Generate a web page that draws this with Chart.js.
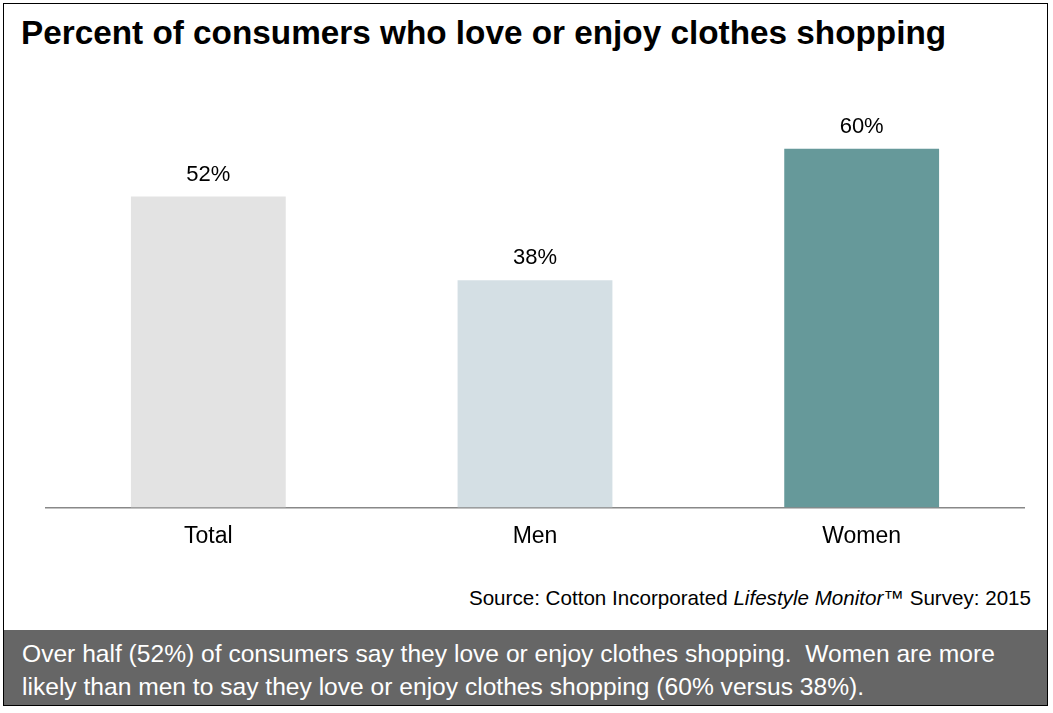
<!DOCTYPE html>
<html><head><meta charset="utf-8">
<script src="https://cdn.jsdelivr.net/npm/chart.js@4"></script>
<style>
body{margin:0;background:#fff;font-family:"Liberation Sans",Arial,sans-serif;}
#frame{position:absolute;left:3px;top:3px;width:1045px;height:703px;border:1px solid #000;box-sizing:border-box;}
#title{position:absolute;left:21px;top:14px;font-size:33.3px;font-weight:bold;color:#000;}
#wrap{position:absolute;left:45px;top:80px;width:980px;height:485px;}
#src{position:absolute;right:22px;top:586px;font-size:20.6px;color:#000;}
#foot{position:absolute;left:4px;top:630px;width:1043px;height:75px;background:#666;color:#fff;font-size:24.6px;line-height:33px;padding:7px 18px 8px 18px;box-sizing:border-box;}
</style></head><body>
<div id="frame"></div>
<div id="title">Percent of consumers who love or enjoy clothes shopping</div>
<div id="wrap"><canvas id="c"></canvas></div>
<div id="src">Source: Cotton Incorporated <i>Lifestyle Monitor</i>™ Survey: 2015</div>
<div id="foot">Over half (52%) of consumers say they love or enjoy clothes shopping.&nbsp; Women are more likely than men to say they love or enjoy clothes shopping (60% versus 38%).</div>
<script>
const categories=["Total","Men","Women"];
const values=[52,38,60];
const barColors=["#e3e3e3","#d4dfe4","#66999a"];
const labelPlugin={id:"lbl",afterDatasetsDraw(ch){const c=ch.ctx;const m=ch.getDatasetMeta(0);c.save();c.font='22px "Liberation Sans",Arial';c.fillStyle="#000";c.textAlign="center";c.textBaseline="bottom";m.data.forEach((b,i)=>c.fillText(values[i]+"%",b.x,b.y-11));c.restore();}};
new Chart(document.getElementById("c"),{type:"bar",
data:{labels:categories,datasets:[{data:values,backgroundColor:barColors,categoryPercentage:1,barPercentage:0.474}]},
options:{responsive:true,maintainAspectRatio:false,animation:false,
plugins:{legend:{display:false},tooltip:{enabled:false}},
layout:{padding:{top:0,bottom:0}},
scales:{y:{display:false,min:0,max:71.5},
x:{grid:{display:false,drawTicks:false},border:{color:"#888",width:1.5},ticks:{color:"#000",font:{size:23,family:'"Liberation Sans",Arial'},padding:15}}}},
plugins:[labelPlugin]});
</script></body></html>
